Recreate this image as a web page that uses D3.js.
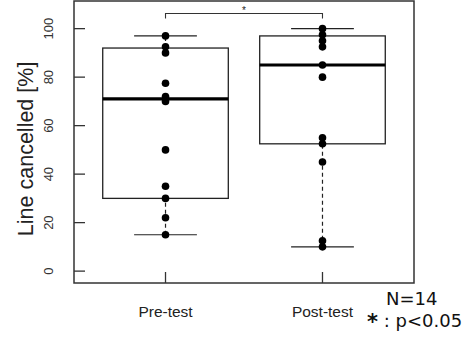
<!DOCTYPE html>
<html>
<head>
<meta charset="utf-8">
<script src="https://cdn.jsdelivr.net/npm/d3@7/dist/d3.min.js"></script>
<style>
  body { margin: 0; background: #fff; }
  svg { display: block; }
</style>
</head>
<body>
<div id="chart"></div>
<script>
// groups and raw points
const groups = ["Pre-test", "Post-test"];
const prePoints = [97, 92.5, 90, 77.5, 72, 71, 70, 50, 35, 30, 22, 15];
const postPoints = [100, 97.5, 95, 92.5, 85, 80, 55, 52.5, 45, 12.5, 10];
// box statistics: [lower whisker, Q1, median, Q3, upper whisker]
const preStats = [15, 30, 71, 92, 97];
const postStats = [10, 52.5, 85, 97, 100];
const yTicks = [0, 20, 40, 60, 80, 100];

const width = 474, height = 351;
const frame = {left: 74, right: 414, top: 1, bottom: 283};

const svg = d3.select("#chart").append("svg")
  .attr("width", width)
  .attr("height", height);

const x = d3.scalePoint()
  .domain(groups)
  .range([frame.left, frame.right])
  .padding(0.583);

const y = d3.scaleLinear()
  .domain([-4.9, 111.4])
  .range([frame.bottom, frame.top]);

const step = x.step();
const boxW = step * 0.8;
const capW = step * 0.4;

const data = [
  {g: groups[0], stats: preStats, pts: prePoints},
  {g: groups[1], stats: postStats, pts: postPoints}
];

const ink = "#222";

// whiskers, caps, boxes, medians
data.forEach(d => {
  const cx = x(d.g);
  const [lo, q1, med, q3, hi] = d.stats;
  [[lo, q1], [q3, hi]].forEach(([a, b]) => {
    svg.append("line")
      .attr("x1", cx).attr("x2", cx)
      .attr("y1", y(a)).attr("y2", y(b))
      .attr("stroke", ink).attr("stroke-width", 1.2)
      .attr("stroke-dasharray", "4,3");
  });
  [lo, hi].forEach(v => {
    svg.append("line")
      .attr("x1", cx - capW / 2).attr("x2", cx + capW / 2)
      .attr("y1", y(v)).attr("y2", y(v))
      .attr("stroke", ink).attr("stroke-width", 1.2);
  });
  svg.append("rect")
    .attr("x", cx - boxW / 2)
    .attr("y", y(q3))
    .attr("width", boxW)
    .attr("height", y(q1) - y(q3))
    .attr("fill", "#fff")
    .attr("stroke", ink).attr("stroke-width", 1.3);
  svg.append("line")
    .attr("x1", cx - boxW / 2).attr("x2", cx + boxW / 2)
    .attr("y1", y(med)).attr("y2", y(med))
    .attr("stroke", "#000").attr("stroke-width", 3.2);
});

// points
data.forEach(d => {
  svg.selectAll(null)
    .data(d.pts)
    .enter().append("circle")
    .attr("cx", x(d.g))
    .attr("cy", v => y(v))
    .attr("r", 3.8)
    .attr("fill", "#000");
});

// frame
svg.append("rect")
  .attr("x", frame.left).attr("y", frame.top)
  .attr("width", frame.right - frame.left)
  .attr("height", frame.bottom - frame.top)
  .attr("fill", "none")
  .attr("stroke", "#333").attr("stroke-width", 1.5);

// y ticks (pointing inward) and rotated labels
yTicks.forEach(t => {
  svg.append("line")
    .attr("x1", frame.left).attr("x2", frame.left + 11)
    .attr("y1", y(t)).attr("y2", y(t))
    .attr("stroke", "#333").attr("stroke-width", 1.3);
  svg.append("text")
    .attr("transform", `translate(53,${y(t)}) rotate(-90)`)
    .attr("text-anchor", "middle")
    .style("font-family", "Liberation Sans, Arial, sans-serif")
    .style("font-size", "13px")
    .attr("fill", "#333")
    .text(t);
});

// x ticks and labels
groups.forEach(g => {
  svg.append("line")
    .attr("x1", x(g)).attr("x2", x(g))
    .attr("y1", frame.bottom).attr("y2", frame.bottom - 11)
    .attr("stroke", "#333").attr("stroke-width", 1.3);
  svg.append("text")
    .attr("x", x(g)).attr("y", 317)
    .attr("text-anchor", "middle")
    .style("font-family", "Liberation Sans, Arial, sans-serif")
    .style("font-size", "15.5px")
    .attr("fill", "#222")
    .text(g);
});

// y axis title
svg.append("text")
  .attr("transform", `translate(33,${y(50) - 1}) rotate(-90)`)
  .attr("text-anchor", "middle")
  .style("font-family", "Liberation Sans, Arial, sans-serif")
  .style("font-size", "21.5px")
  .attr("fill", "#222")
  .text("Line cancelled [%]");

// significance bracket
const by = 13.5;
svg.append("path")
  .attr("d", `M${x(groups[0])},${by + 5}V${by}H${x(groups[1])}V${by + 5}`)
  .attr("fill", "none")
  .attr("stroke", "#333").attr("stroke-width", 1.1);
svg.append("text")
  .attr("x", (x(groups[0]) + x(groups[1])) / 2)
  .attr("y", 14)
  .attr("text-anchor", "middle")
  .style("font-family", "Liberation Sans, Arial, sans-serif")
  .style("font-size", "10px")
  .attr("fill", "#222")
  .text("*");

// note
svg.append("text")
  .attr("x", 386).attr("y", 305)
  .style("font-family", "DejaVu Sans, sans-serif")
  .style("font-size", "18px")
  .attr("fill", "#111")
  .text("N=14");
const note = svg.append("text")
  .attr("x", 367).attr("y", 327)
  .style("font-family", "DejaVu Sans, sans-serif")
  .style("font-size", "18px")
  .attr("fill", "#111");
note.append("tspan")
  .style("font-size", "21px")
  .style("font-weight", "bold")
  .attr("dy", 2)
  .text("*");
note.append("tspan")
  .attr("dy", -2)
  .text(" : p<0.05");
</script>
</body>
</html>
